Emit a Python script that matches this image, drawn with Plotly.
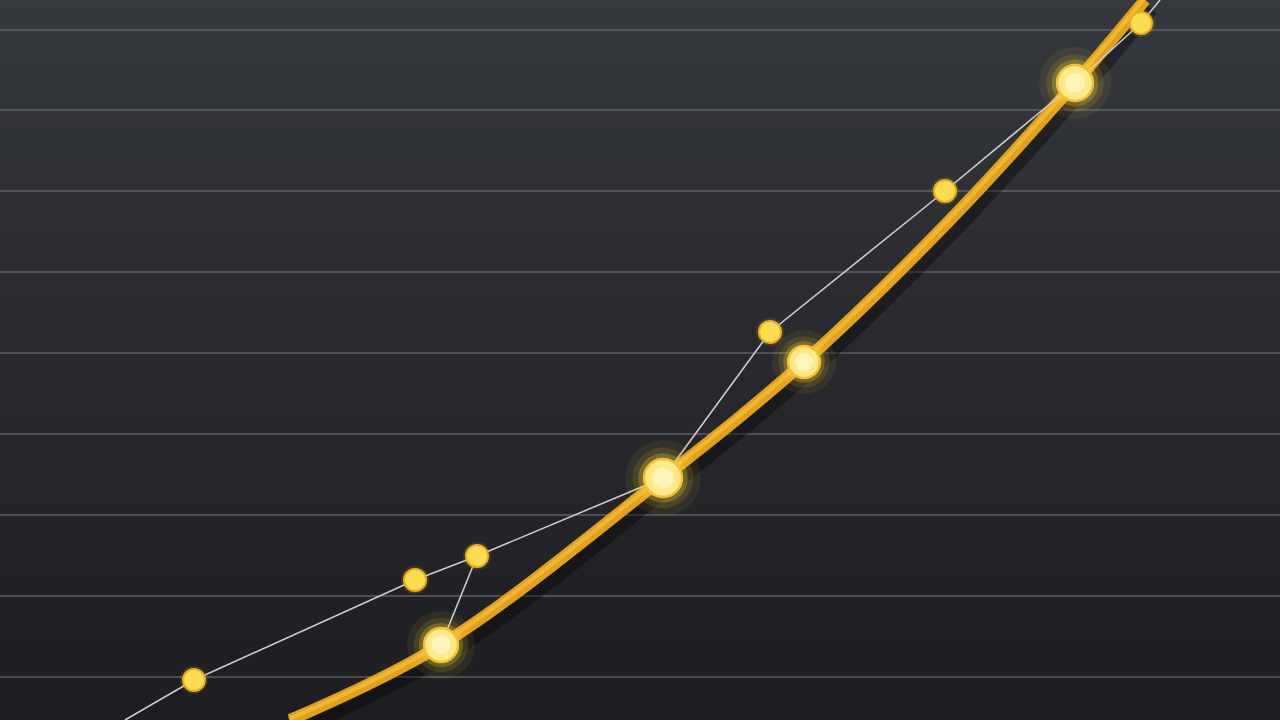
import plotly.graph_objects as go

# ---- data (plot units: x 0..1280, y 0..720 bottom-up) ----
grid_levels = [43, 124, 205, 286, 367, 448, 529, 610, 690]

trend_x = [290, 441, 663, 804, 950, 1075, 1145]
trend_y = [0, 75, 242, 358, 500, 637, 720]

key_x = [441, 663, 804, 1075]
key_y = [75, 242, 358, 637]
key_size = [34, 38, 32, 36]

obs_path_x = [125, 194, 415, 477, 663, 770, 945, 1075, 1141, 1160]
obs_path_y = [0, 40, 140, 164, 242, 388, 529, 637, 697, 720]

branch_x = [477, 441]
branch_y = [164, 75]

obs_x = [194, 415, 477, 770, 945, 1141]
obs_y = [40, 140, 164, 388, 529, 697]

bg_levels = [0, 720]

fig = go.Figure()

# background gradient
fig.add_trace(go.Heatmap(
    x=[0, 1280], y=bg_levels, z=[[0, 0], [1, 1]],
    colorscale=[[0, "#1d1e21"], [0.5, "#28292d"], [1, "#35383d"]],
    showscale=False, hoverinfo="skip", zsmooth="best"))

# gridlines
for g in grid_levels:
    fig.add_trace(go.Scatter(x=[0, 1280], y=[g, g], mode="lines",
                             line=dict(color="rgba(105,109,116,0.6)", width=2),
                             hoverinfo="skip", showlegend=False))

# trend shadow
fig.add_trace(go.Scatter(x=[v + 4 for v in trend_x], y=[v - 7 for v in trend_y],
                         mode="lines", line=dict(color="rgba(0,0,0,0.35)", width=20, shape="spline"),
                         hoverinfo="skip", showlegend=False))
# trend line
fig.add_trace(go.Scatter(x=trend_x, y=trend_y, mode="lines",
                         line=dict(color="#e3a01c", width=12, shape="spline"),
                         hoverinfo="skip", showlegend=False))
fig.add_trace(go.Scatter(x=[v - 1 for v in trend_x], y=[v + 1 for v in trend_y], mode="lines",
                         line=dict(color="rgba(250,190,60,0.7)", width=4, shape="spline"),
                         hoverinfo="skip", showlegend=False))

# observed thin line
fig.add_trace(go.Scatter(x=obs_path_x, y=obs_path_y, mode="lines",
                         line=dict(color="#c9ccd1", width=1.6),
                         hoverinfo="skip", showlegend=False))
fig.add_trace(go.Scatter(x=branch_x, y=branch_y, mode="lines",
                         line=dict(color="#c9ccd1", width=1.6),
                         hoverinfo="skip", showlegend=False))

# glow for key points
for mult, alpha in [(2.0, 0.07), (1.6, 0.12), (1.3, 0.25)]:
    fig.add_trace(go.Scatter(x=key_x, y=key_y, mode="markers",
                             marker=dict(size=[s * mult for s in key_size], opacity=1,
                                         color=f"rgba(255,215,50,{alpha})", line=dict(width=0)),
                             hoverinfo="skip", showlegend=False))
fig.add_trace(go.Scatter(x=key_x, y=key_y, mode="markers",
                         marker=dict(size=key_size, color="#ffe98a", opacity=1,
                                     line=dict(color="#f5c030", width=2.5)),
                         showlegend=False))
fig.add_trace(go.Scatter(x=key_x, y=key_y, mode="markers",
                         marker=dict(size=[s * 0.55 for s in key_size], color="rgba(255,250,210,0.7)",
                                     opacity=1, line=dict(width=0)),
                         hoverinfo="skip", showlegend=False))

# observed points
fig.add_trace(go.Scatter(x=obs_x, y=obs_y, mode="markers",
                         marker=dict(size=28, color="rgba(255,210,60,0.12)", opacity=1, line=dict(width=0)),
                         hoverinfo="skip", showlegend=False))
fig.add_trace(go.Scatter(x=obs_x, y=obs_y, mode="markers",
                         marker=dict(size=22, color="#fcdc50", opacity=1,
                                     line=dict(color="#eab020", width=2)),
                         showlegend=False))

fig.update_layout(
    width=1280, height=720,
    margin=dict(l=0, r=0, t=0, b=0),
    paper_bgcolor="#26282c", plot_bgcolor="#26282c",
    showlegend=False,
    xaxis=dict(range=[0, 1280], visible=False, fixedrange=True),
    yaxis=dict(range=[0, 720], visible=False, fixedrange=True),
)

fig.write_html("out.html", config={"displayModeBar": False},
               post_script="document.body.style.margin='0';document.body.style.overflow='hidden';")
